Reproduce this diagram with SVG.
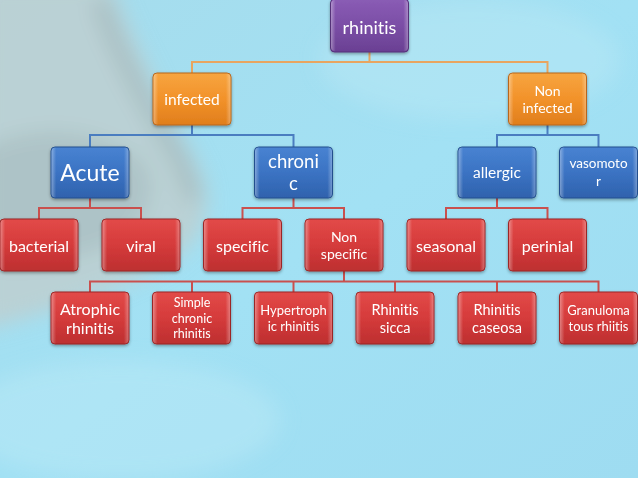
<svg xmlns="http://www.w3.org/2000/svg" width="638" height="478" viewBox="0 0 638 478">
<defs>
<linearGradient id="bg" x1="0" y1="0" x2="1" y2="1">
<stop offset="0" stop-color="#a6dcec"/>
<stop offset="0.5" stop-color="#a2e1f4"/>
<stop offset="1" stop-color="#9edcf1"/>
</linearGradient>
<filter id="blur" x="-50%" y="-50%" width="200%" height="200%"><feGaussianBlur stdDeviation="10"/></filter>
<filter id="sh" x="-10%" y="-10%" width="125%" height="130%"><feDropShadow dx="0" dy="1.5" stdDeviation="1.5" flood-color="#000" flood-opacity="0.35"/></filter>
<linearGradient id="gp" x1="0" y1="0" x2="0" y2="1"><stop offset="0" stop-color="#8a5cb5"/><stop offset="0.5" stop-color="#7b4ea6"/><stop offset="1" stop-color="#6a4093"/></linearGradient>
<linearGradient id="go" x1="0" y1="0" x2="0" y2="1"><stop offset="0" stop-color="#f7a540"/><stop offset="0.5" stop-color="#f2922a"/><stop offset="1" stop-color="#e07e1c"/></linearGradient>
<linearGradient id="gb" x1="0" y1="0" x2="0" y2="1"><stop offset="0" stop-color="#4883d2"/><stop offset="0.5" stop-color="#3b73c3"/><stop offset="1" stop-color="#2f62ad"/></linearGradient>
<linearGradient id="gr" x1="0" y1="0" x2="0" y2="1"><stop offset="0" stop-color="#e24a48"/><stop offset="0.5" stop-color="#d53b3b"/><stop offset="1" stop-color="#bd2f30"/></linearGradient>
<linearGradient id="hl" x1="0" y1="0" x2="1" y2="0"><stop offset="0" stop-color="#fff" stop-opacity="0.35"/><stop offset="0.06" stop-color="#fff" stop-opacity="0"/><stop offset="0.94" stop-color="#fff" stop-opacity="0"/><stop offset="1" stop-color="#fff" stop-opacity="0.3"/></linearGradient>
<style>
.box{filter:url(#sh)}
.box rect.b{stroke-width:1}
.p rect.b{fill:url(#gp);stroke:#543079}
.o rect.b{fill:url(#go);stroke:#b8661a}
.bl rect.b{fill:url(#gb);stroke:#24508e}
.r rect.b{fill:url(#gr);stroke:#9b2526}
rect.h{fill:url(#hl)}
text{font-family:Lato,"Open Sans","Liberation Sans",sans-serif;fill:#fff;text-anchor:middle;dominant-baseline:central;font-variant-ligatures:none}
.co{fill:none;stroke-width:2}
.co .orange{stroke:#e8a560}
.co .blue{stroke:#4a7dc0}
.co .red{stroke:#c9504e}
</style>
</defs>
<rect width="638" height="478" fill="url(#bg)"/>
<g filter="url(#blur)">
<path d="M-20 -20H110C130 40 170 110 200 170C215 205 205 240 170 262C120 290 60 310 -20 330Z" fill="#bccfd2" opacity="0.9"/>
<path d="M-20 150C40 120 100 130 140 160C160 180 150 220 120 240C80 260 20 270 -20 260Z" fill="#a3b8bc" opacity="0.55"/>
<path d="M100 0C115 50 150 110 180 160L195 200" stroke="#94abb0" stroke-width="16" fill="none" opacity="0.5"/>
<ellipse cx="470" cy="60" rx="150" ry="60" fill="#c4ecf7" opacity="0.35"/>
<ellipse cx="120" cy="420" rx="160" ry="60" fill="#c0ebf8" opacity="0.4"/>
</g>
<g id="connectors" class="co">
<path class="orange" d="M369.5 52V62M192 73V62H547.5V73"/>
<path class="blue" d="M192 125V135M90 147V135H293.5V147M547.5 125V135M497 147V135H598.5V147"/>
<path class="red" d="M90 198V208M39 219V208H141V219M293.5 198V208M242.5 219V208H344V219M497 198V208M446 219V208H547.5V219"/>
<path class="red" d="M344 271V281.5M90 292V281.5H598.5V292M192 281.5V292M293.5 281.5V292M395 281.5V292M497 281.5V292"/>
</g>
<g id="rhinitis" class="box p"><rect class="b" x="330.5" y="-1" width="78" height="53" rx="4"/><rect class="h" x="331" y="0" width="77" height="51" rx="4"/><text x="369.5" y="27" font-size="18">rhinitis</text></g>
<g id="infected" class="box o"><rect class="b" x="153" y="73" width="78" height="52" rx="4"/><rect class="h" x="153.5" y="73.5" width="77" height="51" rx="4"/><text x="192" y="99" font-size="15.5">infected</text></g>
<g id="non-infected" class="box o"><rect class="b" x="508.5" y="73" width="78" height="52" rx="4"/><rect class="h" x="509" y="73.5" width="77" height="51" rx="4"/><text x="547.5" y="90" font-size="14">Non</text><text x="547.5" y="107" font-size="14">infected</text></g>
<g id="acute" class="box bl"><rect class="b" x="51" y="147" width="78" height="51" rx="4"/><rect class="h" x="51.5" y="147.5" width="77" height="50" rx="4"/><text x="90" y="172" font-size="23">Acute</text></g>
<g id="chronic" class="box bl"><rect class="b" x="254.5" y="147" width="78" height="51" rx="4"/><rect class="h" x="255" y="147.5" width="77" height="50" rx="4"/><text x="293.5" y="160.5" font-size="18.5">chroni</text><text x="293.5" y="183" font-size="18.5">c</text></g>
<g id="allergic" class="box bl"><rect class="b" x="458" y="147" width="78" height="51" rx="4"/><rect class="h" x="458.5" y="147.5" width="77" height="50" rx="4"/><text x="497" y="171.5" font-size="15.5">allergic</text></g>
<g id="vasomotor" class="box bl"><rect class="b" x="559.5" y="147" width="78" height="51" rx="4"/><rect class="h" x="560" y="147.5" width="77" height="50" rx="4"/><text x="598.5" y="163" font-size="13.5">vasomoto</text><text x="598.5" y="181" font-size="13.5">r</text></g>
<g id="bacterial" class="box r"><rect class="b" x="0" y="219" width="78" height="52" rx="4"/><rect class="h" x="0.5" y="219.5" width="77" height="51" rx="4"/><text x="39" y="245" font-size="16">bacterial</text></g>
<g id="viral" class="box r"><rect class="b" x="102" y="219" width="78" height="52" rx="4"/><rect class="h" x="102.5" y="219.5" width="77" height="51" rx="4"/><text x="141" y="245" font-size="16">viral</text></g>
<g id="specific" class="box r"><rect class="b" x="203.5" y="219" width="78" height="52" rx="4"/><rect class="h" x="204" y="219.5" width="77" height="51" rx="4"/><text x="242.5" y="245" font-size="16">specific</text></g>
<g id="non-specific" class="box r"><rect class="b" x="305" y="219" width="78" height="52" rx="4"/><rect class="h" x="305.5" y="219.5" width="77" height="51" rx="4"/><text x="344" y="236" font-size="14">Non</text><text x="344" y="253" font-size="14">specific</text></g>
<g id="seasonal" class="box r"><rect class="b" x="407" y="219" width="78" height="52" rx="4"/><rect class="h" x="407.5" y="219.5" width="77" height="51" rx="4"/><text x="446" y="245" font-size="16">seasonal</text></g>
<g id="perinial" class="box r"><rect class="b" x="508.5" y="219" width="78" height="52" rx="4"/><rect class="h" x="509" y="219.5" width="77" height="51" rx="4"/><text x="547.5" y="245" font-size="16">perinial</text></g>
<g id="atrophic" class="box r"><rect class="b" x="51" y="292" width="78" height="52" rx="4"/><rect class="h" x="51.5" y="292.5" width="77" height="51" rx="4"/><text x="90" y="308.5" font-size="16">Atrophic</text><text x="90" y="327.5" font-size="16">rhinitis</text></g>
<g id="simple-chronic" class="box r"><rect class="b" x="152.5" y="292" width="78" height="52" rx="4"/><rect class="h" x="153" y="292.5" width="77" height="51" rx="4"/><text x="192" y="302.5" font-size="12.5">Simple</text><text x="192" y="318" font-size="12.5">chronic</text><text x="192" y="333.5" font-size="12.5">rhinitis</text></g>
<g id="hypertrophic" class="box r"><rect class="b" x="254.5" y="292" width="78" height="52" rx="4"/><rect class="h" x="255" y="292.5" width="77" height="51" rx="4"/><text x="293.5" y="310" font-size="13">Hypertroph</text><text x="293.5" y="325.5" font-size="13">ic rhinitis</text></g>
<g id="rhinitis-sicca" class="box r"><rect class="b" x="356" y="292" width="78" height="52" rx="4"/><rect class="h" x="356.5" y="292.5" width="77" height="51" rx="4"/><text x="395" y="309" font-size="14.5">Rhinitis</text><text x="395" y="327" font-size="14.5">sicca</text></g>
<g id="rhinitis-caseosa" class="box r"><rect class="b" x="458" y="292" width="78" height="52" rx="4"/><rect class="h" x="458.5" y="292.5" width="77" height="51" rx="4"/><text x="497" y="309" font-size="14.5">Rhinitis</text><text x="497" y="327" font-size="14.5">caseosa</text></g>
<g id="granulomatous" class="box r"><rect class="b" x="559.5" y="292" width="78" height="52" rx="4"/><rect class="h" x="560" y="292.5" width="77" height="51" rx="4"/><text x="598.5" y="310" font-size="13">Granuloma</text><text x="598.5" y="325.5" font-size="13">tous rhiitis</text></g>
</svg>
